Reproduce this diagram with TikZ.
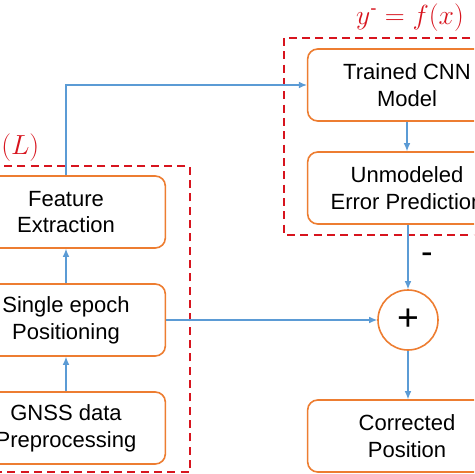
\documentclass[tikz,border=0pt]{standalone}
\usepackage{fontspec}
\setmainfont{Liberation Sans}
\usepackage{amsmath}
\usepackage{tikz}
\usetikzlibrary{positioning, arrows.meta, shapes, calc}
\definecolor{BoxOrange}{RGB}{237,125,49}
\definecolor{LineBlue}{RGB}{91,155,213}
\definecolor{DashRed}{RGB}{215,20,30}

\tikzset{
  stagebox/.style={rectangle, rounded corners=7.5pt, draw=BoxOrange, line width=1.2pt,
    fill=white, minimum width=149pt, minimum height=54pt, inner sep=0pt, align=center,
    font=\fontsize{16.5}{20}\selectfont},
  flow/.style={-{Latex[length=6pt, width=5pt]}, draw=LineBlue, line width=0.8pt},
  groupbox/.style={draw=DashRed, line width=1.5pt, dash pattern=on 6pt off 4pt},
  redlabel/.style={text=DashRed, font=\fontsize{20}{22}\selectfont}
}

\begin{document}
\begin{tikzpicture}[x=0.75pt, y=-0.75pt]
    \useasboundingbox (0,0) rectangle (474,474);
    \clip (0,0) rectangle (474,474);

    % Groups
    \draw[groupbox] (-20,166) rectangle (190,472);
    \draw[groupbox] (284,38) rectangle (500,235);
    \node[redlabel, anchor=west, inner sep=0pt] (lbl1) at (1,148) {$(L)$};
    \node[redlabel] (lbl2) at (410,18) {$y^{\text{-}} = f(x)$};

    % Left column
    \node[stagebox] (feat) at (66,212) {Feature\\Extraction};
    \node[stagebox] (single) at (66,320) {Single epoch\\Positioning};
    \node[stagebox] (gnss) at (66,428) {GNSS data\\Preprocessing};

    % Right column
    \node[stagebox] (cnn) at (407,85) {Trained CNN\\Model};
    \node[stagebox] (err) at (407,188) {Unmodeled\\Error Prediction};
    \node[circle, draw=BoxOrange, line width=1.2pt, minimum size=45pt, inner sep=0pt,
      font=\fontsize{28}{30}\selectfont] (sum) at (408,320) {+};
    \node[stagebox] (corr) at (407,436) {Corrected\\Position};
    \node[font=\fontsize{26}{28}\selectfont] (minus) at (427,258) {-};

    % Connections
    \draw[flow] (gnss) -- (single);
    \draw[flow] (single) -- (feat);
    \draw[flow] (feat.north) |- (cnn.west);
    \draw[flow] (cnn) -- (err);
    \draw[flow] (err.south -| sum.north) -- (sum.north);
    \draw[flow] (single.east) -- (sum.west);
    \draw[flow] (sum.south) -- (corr.north -| sum.south);
\end{tikzpicture}
\end{document}
